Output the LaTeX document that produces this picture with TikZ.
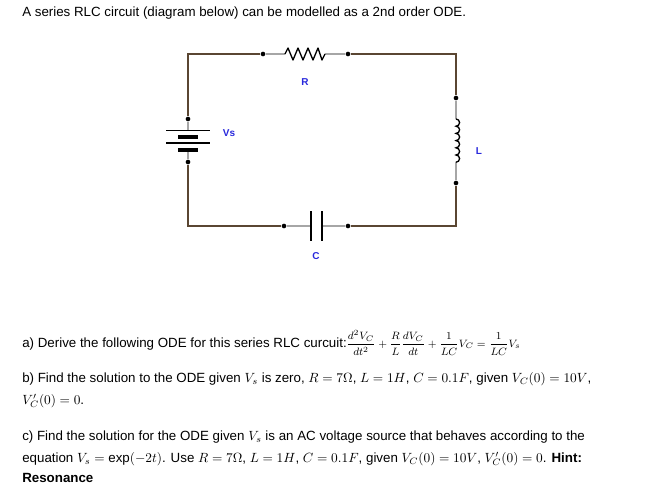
\documentclass[tikz,border=0pt]{standalone}
\usepackage{amsmath}
\usepackage{fontspec}
\setmainfont{Liberation Sans}
\begin{document}
\begin{tikzpicture}[x=0.75pt,y=-0.75pt,
  wire/.style={draw={rgb,255:red,90;green,70;blue,50},line width=1.1pt},
  lead/.style={draw=gray!70,line width=1pt},
  dot/.style={circle,fill=black,inner sep=0pt,minimum size=3.5pt},
  lbl/.style={text={rgb,255:red,40;green,40;blue,220},font=\bfseries\fontsize{7.5}{8}\selectfont},
  txt/.style={anchor=base west,inner sep=0pt,font=\fontsize{10}{11}\selectfont}]
\useasboundingbox (0,0) rectangle (662,490);
% corners
\coordinate (tl) at (188,54); \coordinate (tr) at (456,54);
\coordinate (bl) at (188,226); \coordinate (br) at (456,226);
% dots
\node[dot] (r1) at (263,54) {}; \node[dot] (r2) at (348,54) {};
\node[dot] (b1) at (188,119) {}; \node[dot] (b2) at (188,162) {};
\node[dot] (l1) at (456,98) {}; \node[dot] (l2) at (456,183) {};
\node[dot] (c1) at (284,226) {}; \node[dot] (c2) at (348,226) {};
\draw[wire] (r1) -- (tl) -- (b1);
\draw[wire] (r2) -- (tr) -- (l1);
\draw[wire] (b2) -- (bl) -- (c1);
\draw[wire] (c2) -- (br) -- (l2);
% resistor
\draw[lead] (r1) -- (285,54); \draw[lead] (325,54) -- (r2);
\draw[line width=1pt,line join=round] (285,54) -- (288,48) -- (293,60) -- (298,48) -- (303,60) -- (308,48) -- (313,60) -- (318,48) -- (322,60) -- (325,54);
\node[lbl] (R) at (305,82) {R};
% battery
\draw[lead] (b1) -- (188,130); \draw[lead] (188,150) -- (b2);
\draw[line width=1pt] (166,130.5) -- (210,130.5);
\draw[line width=2.5pt] (178,137) -- (198,137);
\draw[line width=1pt] (166,143) -- (210,143);
\draw[line width=2.5pt] (178,150) -- (198,150);
\node[lbl] (Vs) at (229,133) {Vs};
% inductor
\draw[lead] (l1) -- (456,119); \draw[lead] (456,162) -- (l2);
\draw[line width=1pt] (456,119)
  \foreach \k in {0,...,5} { arc[start angle=-90,end angle=90,radius=3.6] };
\node[lbl] (L) at (479,151) {L};
% capacitor
\draw[lead] (c1) -- (311,226); \draw[lead] (322,226) -- (c2);
\draw[line width=1.3pt] (311,211) -- (311,241);
\draw[line width=1.3pt] (322,211) -- (322,241);
\node[lbl] (C) at (316,256) {C};
% texts
\node[txt] (t0) at (22,16) {A series RLC circuit (diagram below) can be modelled as a 2nd order ODE.};
\node[txt] (ta) at (22,347) {a) Derive the following ODE for this series RLC curcuit:};
\node[anchor=west,inner sep=0pt,font=\fontsize{8.5}{10}\selectfont] (eq) at (346,343) {$\dfrac{d^2V_C}{dt^2}+\dfrac{R}{L}\dfrac{dV_C}{dt}+\dfrac{1}{LC}V_C=\dfrac{1}{LC}V_s$};
\node[txt] (tb) at (22,382) {b) Find the solution to the ODE given $V_s$ is zero, $R=7\Omega$, $L=1H$, $C=0.1F$, given $V_C(0)=10V$,};
\node[txt] (tb2) at (22,404) {$V_C'(0)=0$.};
\node[txt] (tc) at (22,440) {c) Find the solution for the ODE given $V_s$ is an AC voltage source that behaves according to the};
\node[txt] (tc2) at (22,462) {equation $V_s=\exp(-2t)$. Use $R=7\Omega$, $L=1H$, $C=0.1F$, given $V_C(0)=10V$, $V_C'(0)=0$. \textbf{Hint:}};
\node[txt] (tc3) at (22,482) {\textbf{Resonance}};
\end{tikzpicture}
\end{document}
